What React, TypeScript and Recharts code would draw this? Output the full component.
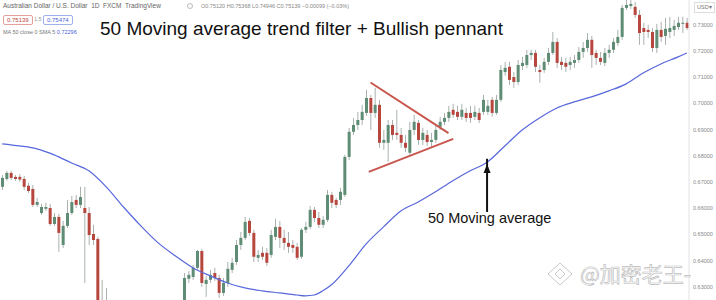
import { ComposedChart, Bar, Line, XAxis, YAxis, ReferenceLine, ReferenceDot } from "recharts";

// [open, high, low, close]; null = candle sits below the visible price range
type Candle = [number, number, number, number] | null;

const leftCandles: Candle[] = [
  [0.6682, 0.6727, 0.667, 0.6716],
  [0.6712, 0.6743, 0.6705, 0.6735],
  [0.6735, 0.6743, 0.6708, 0.6716],
  [0.672, 0.6727, 0.6705, 0.6712],
  [0.672, 0.6731, 0.6701, 0.671],
  [0.6712, 0.6724, 0.667, 0.6682],
  [0.6686, 0.6697, 0.6659, 0.6666],
  [0.6674, 0.6689, 0.6605, 0.6613],
  [0.6613, 0.664, 0.6605, 0.6624],
  [0.6582, 0.6617, 0.6575, 0.6605],
  [0.6598, 0.6621, 0.659, 0.6605],
  [0.6601, 0.6617, 0.6533, 0.654],
  [0.654, 0.6582, 0.6533, 0.6567],
  [0.6567, 0.6579, 0.6434, 0.6506],
  [0.646, 0.6552, 0.6449, 0.6533],
  [0.6533, 0.6632, 0.6525, 0.6582],
  [0.6582, 0.6647, 0.6575, 0.6624],
  [0.6632, 0.6651, 0.6601, 0.6613],
  [0.6613, 0.6682, 0.6601, 0.6643],
  [0.6601, 0.6682, 0.6315, 0.6582],
  [0.6582, 0.6605, 0.646, 0.6498],
  [0.6502, 0.6537, 0.646, 0.6479],
  [0.6483, 0.6491, 0.615, 0.618],
  [0.615, 0.6327, 0.61, 0.622],
  [0.621, 0.6296, 0.612, 0.618],
];

const hiddenCandles: Candle[] = [
  null, null, null, null, null, null, null, null, null,
  null, null, null, null, null, null, null, null,
];

const rallyCandles: Candle[] = [
  [0.6215, 0.6353, 0.62, 0.6334],
  [0.6331, 0.6361, 0.6315, 0.6346],
  [0.6338, 0.6384, 0.6327, 0.6373],
  [0.6373, 0.6441, 0.6365, 0.6437],
  [0.6437, 0.6445, 0.63, 0.6315],
  [0.6311, 0.6342, 0.6262, 0.6327],
  [0.6327, 0.6365, 0.6315, 0.6346],
  [0.6353, 0.6373, 0.6323, 0.6334],
  [0.6334, 0.6346, 0.6258, 0.6277],
  [0.6277, 0.6334, 0.6266, 0.6315],
  [0.6315, 0.6395, 0.63, 0.6369],
  [0.6365, 0.6411, 0.6353, 0.6392],
  [0.6395, 0.6479, 0.6384, 0.646],
  [0.646, 0.651, 0.6441, 0.6487],
  [0.6487, 0.6567, 0.6479, 0.6548],
  [0.6552, 0.6563, 0.6495, 0.6506],
  [0.6506, 0.6518, 0.6395, 0.6415],
  [0.6411, 0.6441, 0.6395, 0.6422],
  [0.643, 0.6453, 0.6403, 0.6415],
  [0.643, 0.6449, 0.638, 0.6392],
  [0.6422, 0.6518, 0.6411, 0.6498],
  [0.6491, 0.656, 0.6479, 0.6529],
  [0.6529, 0.6552, 0.6449, 0.6487],
  [0.6487, 0.6518, 0.6441, 0.6468],
  [0.6468, 0.651, 0.643, 0.6453],
  [0.646, 0.6479, 0.643, 0.6449],
  [0.6453, 0.6468, 0.6403, 0.6411],
  [0.6415, 0.6525, 0.6407, 0.6518],
  [0.6518, 0.6548, 0.6506, 0.6529],
  [0.6529, 0.6609, 0.6521, 0.6594],
  [0.6594, 0.6605, 0.6548, 0.6563],
  [0.6563, 0.6586, 0.6525, 0.6537],
  [0.6537, 0.6571, 0.6525, 0.6556],
  [0.6556, 0.667, 0.6548, 0.6651],
  [0.6651, 0.6663, 0.6601, 0.6621],
  [0.6632, 0.664, 0.6601, 0.6613],
  [0.6632, 0.6678, 0.6613, 0.6663],
  [0.6651, 0.6804, 0.6644, 0.6796],
  [0.6796, 0.6907, 0.6785, 0.6892],
  [0.6892, 0.6945, 0.688, 0.6918],
  [0.6918, 0.6968, 0.6899, 0.6937],
  [0.6937, 0.6995, 0.6918, 0.6968],
  [0.6964, 0.7052, 0.6953, 0.7021],
];

const pennantCandles: Candle[] = [
  [0.7021, 0.7033, 0.6899, 0.6964],
  [0.6964, 0.706, 0.6945, 0.6995],
  [0.6995, 0.7014, 0.6831, 0.685],
  [0.685, 0.6899, 0.6823, 0.6861],
  [0.685, 0.6937, 0.6777, 0.6918],
  [0.6918, 0.6937, 0.6861, 0.688],
  [0.6888, 0.6976, 0.6861, 0.688],
  [0.688, 0.6907, 0.6831, 0.685],
  [0.685, 0.688, 0.6815, 0.6831],
  [0.6812, 0.693, 0.6804, 0.6899],
  [0.6899, 0.6957, 0.688, 0.693],
  [0.6926, 0.6937, 0.6842, 0.6861],
  [0.6861, 0.6907, 0.6842, 0.6888],
  [0.688, 0.6899, 0.6838, 0.6853],
  [0.6853, 0.6888, 0.6834, 0.6861],
  [0.6861, 0.6918, 0.685, 0.6899],
  [0.6911, 0.6949, 0.6899, 0.693],
  [0.693, 0.6964, 0.6918, 0.6945],
  [0.6945, 0.6991, 0.693, 0.6968],
  [0.6976, 0.6999, 0.6945, 0.6957],
  [0.6968, 0.6991, 0.6937, 0.6949],
];

const breakoutCandles: Candle[] = [
  [0.6949, 0.6999, 0.6937, 0.6976],
  [0.6964, 0.6983, 0.693, 0.6945],
  [0.6964, 0.6991, 0.6926, 0.6945],
  [0.6949, 0.6991, 0.6937, 0.6968],
  [0.6964, 0.6983, 0.6926, 0.6937],
  [0.6968, 0.7033, 0.6957, 0.7014],
  [0.6968, 0.7014, 0.6957, 0.6991],
  [0.7014, 0.7025, 0.6949, 0.6964],
  [0.6964, 0.7033, 0.6957, 0.7014],
  [0.7014, 0.7147, 0.7006, 0.7128],
  [0.712, 0.7159, 0.7106, 0.7136],
  [0.714, 0.7159, 0.7071, 0.709],
  [0.7101, 0.712, 0.706, 0.7082],
  [0.7082, 0.7166, 0.7071, 0.7147],
  [0.7143, 0.7178, 0.7128, 0.7155],
  [0.7147, 0.7205, 0.7136, 0.7185],
  [0.7185, 0.7205, 0.7166, 0.7193],
  [0.7193, 0.7205, 0.712, 0.714],
  [0.7128, 0.7147, 0.7079, 0.712],
  [0.7128, 0.7174, 0.7117, 0.7159],
  [0.7159, 0.7212, 0.7147, 0.7193],
  [0.7193, 0.7273, 0.7185, 0.7235],
  [0.7235, 0.725, 0.7136, 0.7155],
  [0.7159, 0.7178, 0.7128, 0.7147],
  [0.7155, 0.7174, 0.712, 0.714],
  [0.7147, 0.7178, 0.7128, 0.7159],
  [0.7155, 0.7185, 0.7136, 0.7166],
  [0.7166, 0.7216, 0.7155, 0.7197],
  [0.7197, 0.7235, 0.7174, 0.7212],
  [0.7212, 0.7269, 0.7197, 0.7243],
  [0.7243, 0.7258, 0.7136, 0.7185],
  [0.7193, 0.7205, 0.7147, 0.7174],
  [0.7174, 0.7197, 0.7147, 0.7159],
  [0.7155, 0.7212, 0.7143, 0.7193],
  [0.7193, 0.7224, 0.7174, 0.7205],
  [0.7205, 0.725, 0.7193, 0.7235],
  [0.7231, 0.7281, 0.722, 0.7254],
  [0.7254, 0.7376, 0.7243, 0.7365],
  [0.7365, 0.7395, 0.7357, 0.7376],
  [0.7372, 0.7406, 0.7361, 0.738],
  [0.7369, 0.7388, 0.7327, 0.7338],
  [0.7338, 0.7357, 0.7224, 0.7269],
  [0.7288, 0.7308, 0.7224, 0.7273],
  [0.7281, 0.73, 0.725, 0.7273],
  [0.7273, 0.7288, 0.7197, 0.7212],
  [0.7212, 0.7304, 0.7193, 0.7281],
  [0.7281, 0.7311, 0.7235, 0.7254],
  [0.7258, 0.7327, 0.7224, 0.7285],
  [0.7273, 0.7331, 0.725, 0.7288],
  [0.7281, 0.7319, 0.7258, 0.7296],
  [0.7292, 0.7331, 0.7281, 0.7308],
  [0.7304, 0.7331, 0.7269, 0.7308],
  [0.7308, 0.7327, 0.7281, 0.7288],
];

// 50 SMA, read at every 4th bar: [bar index, value]
const maPoints: [number, number][] = [
  [0, 0.6846], [4, 0.6838], [8, 0.6827], [12, 0.6804], [16, 0.6773], [20, 0.6743],
  [24, 0.6682], [28, 0.6605], [32, 0.6533], [36, 0.6468], [40, 0.6418], [44, 0.6373],
  [48, 0.6342], [52, 0.6315], [56, 0.6296], [60, 0.6285], [64, 0.6277], [68, 0.6269],
  [70, 0.6266], [72, 0.6269], [74, 0.6285], [76, 0.6308], [80, 0.638], [84, 0.6464],
  [88, 0.6529], [92, 0.659], [96, 0.6624], [100, 0.6663], [104, 0.6705], [108, 0.6743],
  [112, 0.6777], [116, 0.6838], [120, 0.6899], [124, 0.6945], [128, 0.6983], [132, 0.7006],
  [136, 0.7025], [140, 0.7048], [144, 0.7075], [148, 0.7117], [152, 0.7151], [156, 0.7178],
  [158, 0.7193],
];

const priceTicks = [0.63, 0.64, 0.65, 0.66, 0.67, 0.68, 0.69, 0.7, 0.71, 0.72, 0.73];

// pennant trend lines: [bar index, price]
const pennantUpper: [number, number][] = [[85, 0.708], [103, 0.6887]];
const pennantLower: [number, number][] = [[84.6, 0.6739], [104.1, 0.6865]];
const arrowBar = 111.9;
const arrowFrom = 0.6586;
const arrowTo = 0.6769;

const title = "50 Moving average trend filter + Bullish pennant";
const maLabel = "50 Moving average";

const upColor = "#5e8c74";
const downColor = "#b7463e";
const wickColor = "#a9b2ad";

const candles: Candle[] = [
  ...leftCandles,
  ...hiddenCandles,
  ...rallyCandles,
  ...pennantCandles,
  ...breakoutCandles,
];

const rows = candles.map((c, i) => ({
  i,
  open: c ? c[0] : null,
  high: c ? c[1] : null,
  low: c ? c[2] : null,
  close: c ? c[3] : null,
  range: c ? [c[2], c[1]] : null,
}));

const maRows = maPoints.map(([i, v]) => ({ i, ma: v }));

function CandleShape(props: any) {
  const { x, y, width, height, payload } = props;
  if (!payload || payload.high == null || !isFinite(y) || !isFinite(height)) return <g />;
  const { open, close, high, low } = payload;
  const span = high - low || 1e-9;
  const toY = (v: number) => y + ((high - v) / span) * height;
  const top = toY(Math.max(open, close));
  const bot = toY(Math.min(open, close));
  const cx = x + width / 2;
  return (
    <g>
      <line x1={cx} x2={cx} y1={y} y2={y + height} stroke={wickColor} strokeWidth={1} />
      <rect
        x={x}
        y={top}
        width={width}
        height={Math.max(1, bot - top)}
        fill={close >= open ? upColor : downColor}
      />
    </g>
  );
}

function ArrowHead(props: any) {
  const { cx, cy } = props;
  return <polygon points={`${cx},${cy} ${cx - 3.5},${cy + 9} ${cx + 3.5},${cy + 9}`} fill="#111" />;
}

const small = { fontFamily: "'Liberation Sans', Arial, sans-serif", color: "#666", fontSize: 6.5 };

export default function App() {
  return (
    <div style={{ position: "absolute", left: 0, top: 0, width: 716, height: 300, background: "#fff", overflow: "hidden" }}>
      <ComposedChart width={716} height={300} data={rows} margin={{ top: 0, right: 0, left: 0, bottom: 0 }}>
        <XAxis dataKey="i" type="number" domain={[-0.5, 158.5]} hide />
        <YAxis
          orientation="right"
          width={27}
          domain={[0.625, 0.7395]}
          allowDataOverflow
          ticks={priceTicks}
          tickFormatter={(v: number) => v.toFixed(5)}
          tick={{ fontSize: 5.5, fill: "#888", fontFamily: "'Liberation Sans', Arial" }}
          tickLine={false}
          tickSize={2}
          tickMargin={2}
          axisLine={{ stroke: "#e2e2e2" }}
        />
        <Bar dataKey="range" barSize={3} shape={<CandleShape />} isAnimationActive={false} />
        <Line
          data={maRows}
          type="monotone"
          dataKey="ma"
          dot={false}
          activeDot={false}
          stroke="#5767dc"
          strokeWidth={1.2}
          isAnimationActive={false}
        />
        <ReferenceLine
          segment={pennantUpper.map(([x, y]) => ({ x, y }))}
          stroke="#c8564d"
          strokeWidth={2}
        />
        <ReferenceLine
          segment={pennantLower.map(([x, y]) => ({ x, y }))}
          stroke="#c8564d"
          strokeWidth={2}
        />
        <ReferenceLine
          segment={[{ x: arrowBar, y: arrowFrom }, { x: arrowBar, y: arrowTo + 0.002 }]}
          stroke="#111"
          strokeWidth={2}
        />
        <ReferenceDot x={arrowBar} y={arrowTo} r={4} shape={<ArrowHead />} />
      </ComposedChart>

      <div style={{ ...small, position: "absolute", left: 3, top: 2, whiteSpace: "nowrap" }}>
        Australian Dollar / U.S. Dollar&nbsp;&nbsp;1D&nbsp;&nbsp;FXCM&nbsp;&nbsp;TradingView
      </div>
      <div style={{ position: "absolute", left: 187, top: 3, width: 6, height: 6, borderRadius: 3, border: "1px solid #bbb", boxSizing: "border-box" }} />
      <div style={{ ...small, fontSize: 5.5, color: "#888", position: "absolute", left: 201, top: 3, whiteSpace: "nowrap" }}>
        O0.75120 H0.75368 L0.74946 C0.75139 −0.00099 (−0.03%)
      </div>
      <div style={{ ...small, fontSize: 6, color: "#c0453c", position: "absolute", left: 3, top: 15, padding: "0 3px", border: "1px solid #e2a19b", borderRadius: 2, lineHeight: "8px" }}>
        0.75139
      </div>
      <div style={{ ...small, fontSize: 5.5, color: "#999", position: "absolute", left: 34, top: 16 }}>1.5</div>
      <div style={{ ...small, fontSize: 6, color: "#4a63d6", position: "absolute", left: 43, top: 15, padding: "0 3px", border: "1px solid #9fb0ea", borderRadius: 2, lineHeight: "8px" }}>
        0.75474
      </div>
      <div style={{ ...small, fontSize: 5.5, color: "#777", position: "absolute", left: 3, top: 29, whiteSpace: "nowrap" }}>
        MA 50 close 0 SMA 5 <span style={{ color: "#4a63d6" }}>0.72296</span>
      </div>
      <div style={{ ...small, fontSize: 5.5, color: "#777", position: "absolute", left: 694, top: 2, padding: "1px 2px", border: "1px solid #ddd", lineHeight: "7px" }}>
        USD▾
      </div>

      <div style={{ position: "absolute", left: 100, top: 18, fontFamily: "'Liberation Sans', Arial, sans-serif", fontSize: 19, color: "#111", whiteSpace: "nowrap" }}>
        {title}
      </div>
      <div style={{ position: "absolute", left: 428, top: 210, fontFamily: "'Liberation Sans', Arial, sans-serif", fontSize: 14.5, color: "#111", whiteSpace: "nowrap" }}>
        {maLabel}
      </div>

      <svg style={{ position: "absolute", left: 546, top: 261 }} width={30} height={28}>
        <g fill="none" stroke="#c8c8c8" strokeWidth={1}>
          <polygon points="14,2 26,13 14,24 2,13" />
          <polygon points="14,8 19,13 14,18 9,13" />
        </g>
      </svg>
      <div
        style={{
          position: "absolute",
          left: 580,
          top: 261,
          fontFamily: "'Noto Sans CJK SC', sans-serif",
          fontSize: 21,
          lineHeight: "24px",
          color: "#fff",
          WebkitTextStroke: "0.7px #bdbdbd",
          whiteSpace: "nowrap",
        }}
      >
        @加密老王-
      </div>
    </div>
  );
}
